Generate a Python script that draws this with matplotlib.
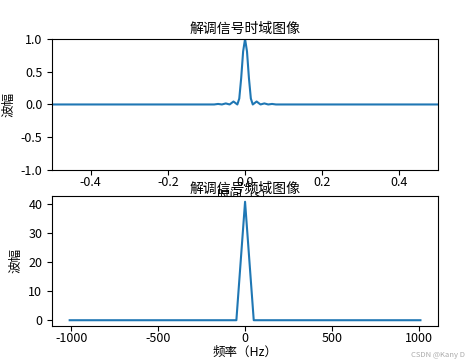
import matplotlib
matplotlib.use("Agg")
import matplotlib.pyplot as plt

plt.rcParams['font.family'] = ['Noto Sans CJK SC', 'DejaVu Sans']
plt.rcParams['axes.unicode_minus'] = False

# 时域数据
t = [-0.5, -0.09, -0.08, -0.07, -0.06, -0.05, -0.04, -0.03, -0.02, -0.015, -0.01, -0.005,
     0.0, 0.005, 0.01, 0.015, 0.02, 0.03, 0.04, 0.05, 0.06, 0.07, 0.08, 0.09, 0.5]
amp_t = [0.0, 0.0, 0.0, 0.008, 0.0, 0.016, 0.0, 0.045, 0.0, 0.09, 0.405, 0.81,
         1.0, 0.81, 0.405, 0.09, 0.0, 0.045, 0.0, 0.016, 0.0, 0.008, 0.0, 0.0, 0.0]

# 频域数据
f = [-1010, -50, 0, 50, 1010]
amp_f = [0.0, 0.0, 40.7, 0.0, 0.0]

fig = plt.figure(figsize=(4.74, 3.64), dpi=100)

ax1 = fig.add_axes([0.110, 0.533, 0.814, 0.360])
ax1.plot(t, amp_t, color='#1f77b4', lw=1.5)
ax1.set_xlim(-0.5, 0.5)
ax1.set_ylim(-1, 1)
ax1.set_yticks([-1.0, -0.5, 0.0, 0.5, 1.0])
ax1.set_title('解调信号时域图像', fontsize=10, pad=4)
ax1.set_xlabel('时间（s）', fontsize=9, labelpad=0)
ax1.set_ylabel('波幅', fontsize=9)

ax2 = fig.add_axes([0.110, 0.104, 0.814, 0.358])
ax2.plot(f, amp_f, color='#1f77b4', lw=1.5)
ax2.set_yticks([0, 10, 20, 30, 40])
ax2.set_xticks([-1000, -500, 0, 500, 1000])
ax2.set_title('解调信号频域图像', fontsize=10, pad=2)
ax2.set_xlabel('频率（Hz）', fontsize=9, labelpad=0)
ax2.set_ylabel('波幅', fontsize=9)

for ax in (ax1, ax2):
    ax.tick_params(labelsize=9)
    ax.tick_params(axis='x', pad=1)

fig.text(0.98, 0.015, 'CSDN @Kany D', fontsize=5.5, color='#aaaaaa', ha='right', va='bottom')

fig.savefig('out.png', dpi=100)
